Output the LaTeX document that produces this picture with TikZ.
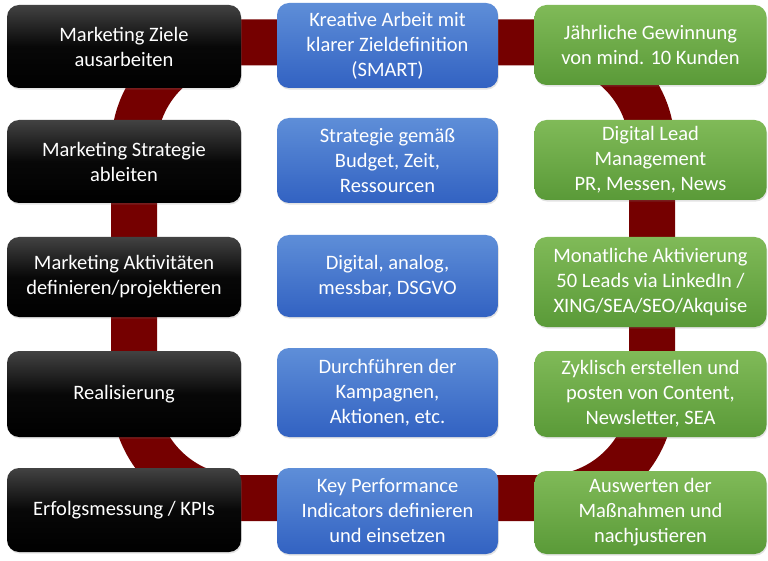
\documentclass[tikz,border=0pt]{standalone}
\usepackage{fontspec}
\setmainfont{Carlito}
\usetikzlibrary{shadows}
\definecolor{bandred}{RGB}{117,0,0}
\definecolor{bluetop}{RGB}{94,142,216}
\definecolor{bluebot}{RGB}{50,98,194}
\definecolor{greentop}{RGB}{128,186,88}
\definecolor{greenbot}{RGB}{90,154,56}
\begin{document}
\begin{tikzpicture}[x=1pt,y=-1pt,
  box/.style={rounded corners=12pt, align=center, text=white,
    font=\fontsize{20.5}{25}\selectfont, inner sep=0pt,
    drop shadow={shadow xshift=0.8pt, shadow yshift=-1.6pt, opacity=0.22}},
  blkbox/.style={box, top color=black!74, bottom color=black, middle color=black!97},
  bluebox/.style={box, top color=bluetop, bottom color=bluebot},
  greenbox/.style={box, top color=greentop, bottom color=greenbot},
  loopband/.style={draw=bandred, line width=46pt, rounded corners=105pt}]
\useasboundingbox (0,0) rectangle (768,561);
\fill[white] (0,0) rectangle (768,561);
% loop band behind the boxes
\coordinate (tl) at (134,42.5);
\coordinate (br) at (652,498);
\draw[loopband] (tl) rectangle (br);
% left column
\node[blkbox, minimum width=234pt, minimum height=83pt] (l1) at (124,46.5) {Marketing Ziele\\ausarbeiten};
\node[blkbox, minimum width=234pt, minimum height=83pt] (l2) at (124,161.5) {Marketing Strategie\\ableiten};
\node[blkbox, minimum width=234pt, minimum height=80pt] (l3) at (124,277) {Marketing Aktivitäten\\definieren/projektieren};
\node[blkbox, minimum width=234pt, minimum height=86pt] (l4) at (124,394) {Realisierung};
\node[blkbox, minimum width=234pt, minimum height=84pt] (l5) at (124,510) {Erfolgsmessung / KPIs};
% middle column
\node[bluebox, minimum width=221pt, minimum height=85pt] (m1) at (387.5,45.5) {Kreative Arbeit mit\\klarer Zieldefinition\\(SMART)};
\node[bluebox, minimum width=221pt, minimum height=85pt] (m2) at (387.5,160.5) {Strategie gemäß\\Budget, Zeit,\\Ressourcen};
\node[bluebox, minimum width=221pt, minimum height=82pt] (m3) at (387.5,276) {Digital, analog,\\messbar, DSGVO};
\node[bluebox, minimum width=221pt, minimum height=89pt] (m4) at (387.5,392.5) {Durchführen der\\Kampagnen,\\Aktionen, etc.};
\node[bluebox, minimum width=221pt, minimum height=86pt] (m5) at (387.5,511) {Key Performance\\Indicators definieren\\und einsetzen};
% right column
\node[greenbox, minimum width=232pt, minimum height=80pt] (r1) at (650.5,45) {Jährliche Gewinnung\\von mind. 10 Kunden};
\node[greenbox, minimum width=232pt, minimum height=80pt] (r2) at (650.5,160) {Digital Lead\\Management\\PR, Messen, News};
\node[greenbox, minimum width=232pt, minimum height=90pt] (r3) at (650.5,282) {Monatliche Aktivierung\\50 Leads via LinkedIn /\\XING/SEA/SEO/Akquise};
\node[greenbox, minimum width=232pt, minimum height=86pt] (r4) at (650.5,394) {Zyklisch erstellen und\\posten von Content,\\Newsletter, SEA};
\node[greenbox, minimum width=232pt, minimum height=83pt] (r5) at (650.5,512.5) {Auswerten der\\Maßnahmen und\\nachjustieren};
\end{tikzpicture}
\end{document}
